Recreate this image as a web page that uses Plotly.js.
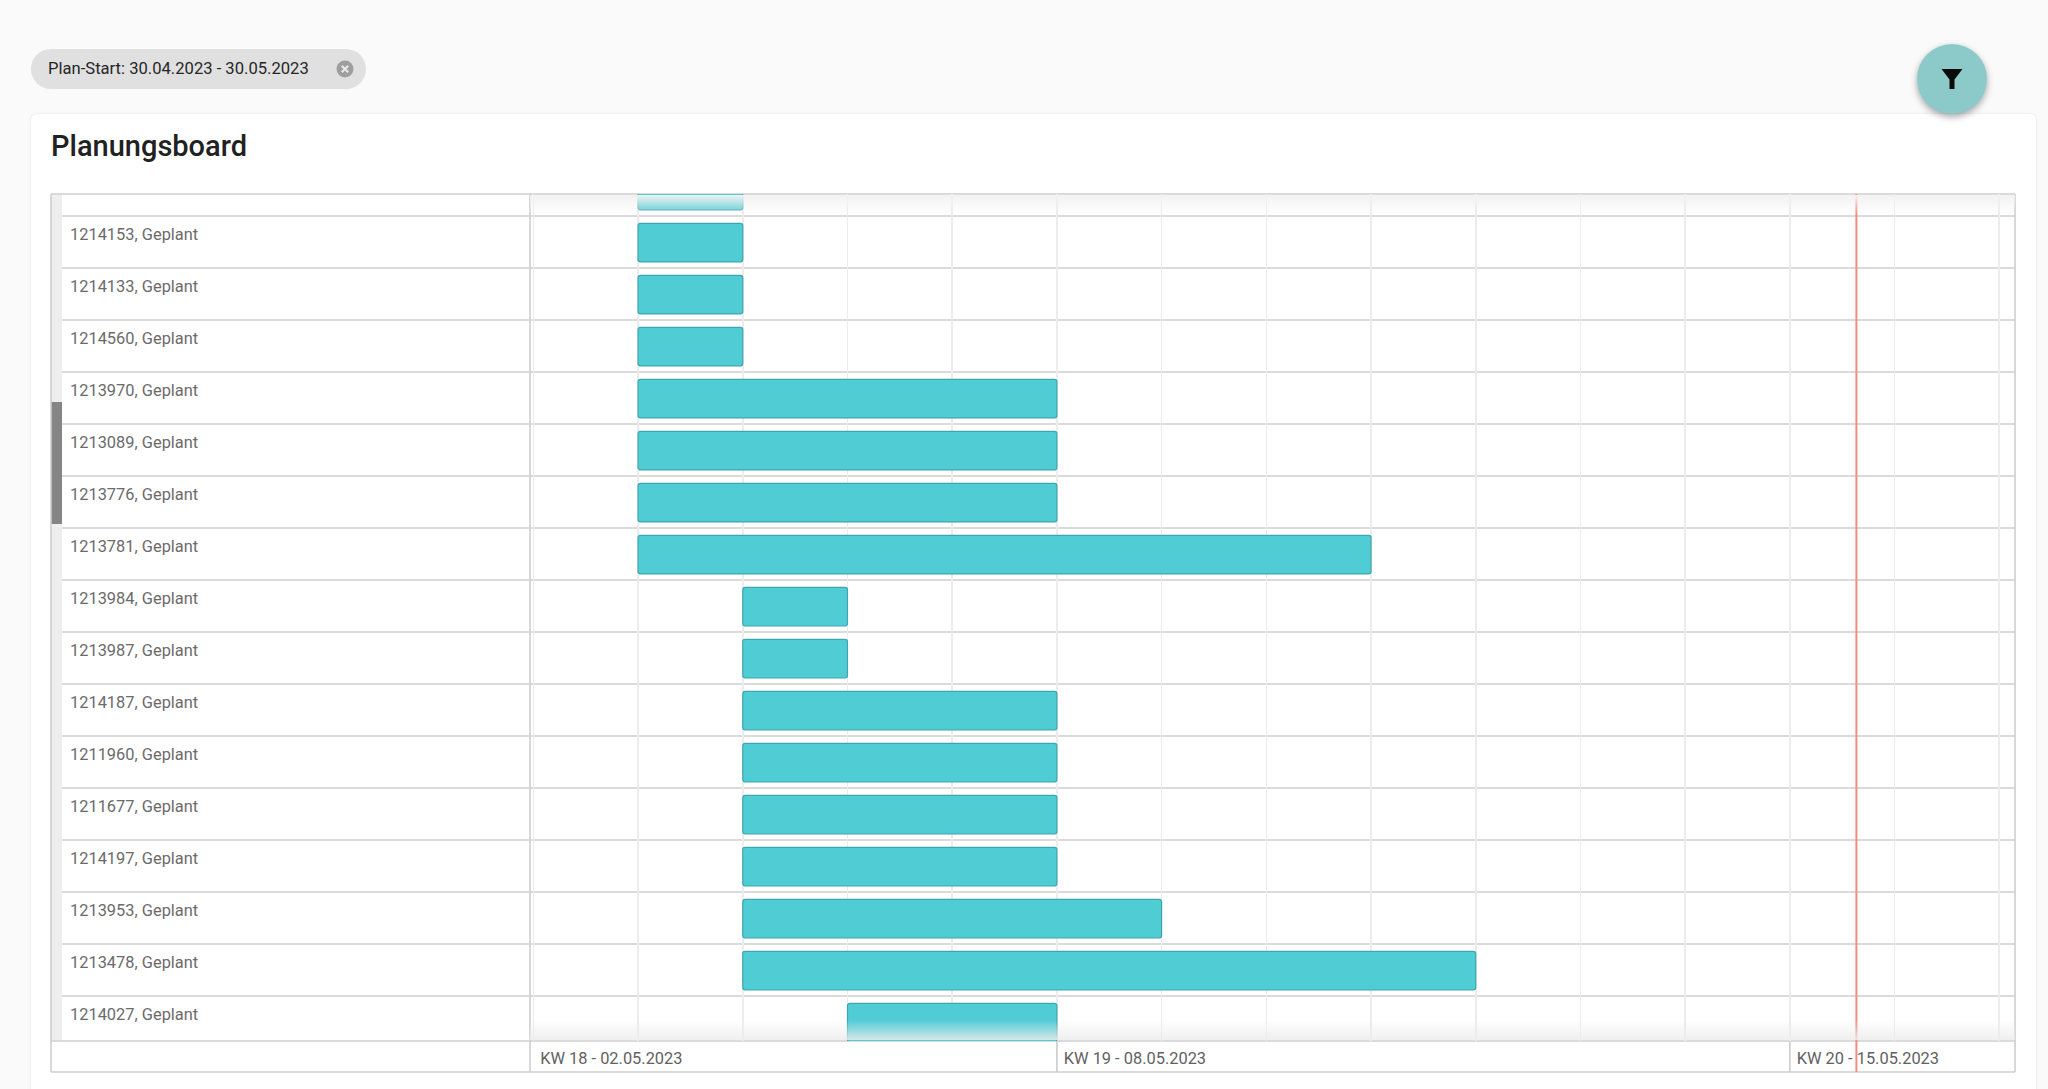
<!DOCTYPE html>
<html><head><meta charset="utf-8">
<script src="https://cdn.plot.ly/plotly-3.0.1.min.js"></script>
<style>
html,body{margin:0;padding:0;width:2048px;height:1089px;overflow:hidden;background:#fafafa}
.abs{position:absolute}
#card{left:31px;top:114px;width:2005px;height:990px;background:#fff;border-radius:6px;box-shadow:0 0 3px rgba(0,0,0,.10)}
#chip{left:31px;top:49px;width:335px;height:40px;border-radius:20px;background:#e0e0e0}
#plot{left:0;top:0;width:2048px;height:1089px;z-index:2}
#fadeT{left:530px;top:195px;width:1485px;height:20px;background:linear-gradient(#f2f2f2,rgba(255,255,255,0));z-index:3;pointer-events:none}
#fadeB{left:530px;top:1020px;width:1485px;height:20px;background:linear-gradient(rgba(255,255,255,0),rgba(236,236,236,.85));z-index:3;pointer-events:none}
#fab{left:1917px;top:44px;width:70px;height:70px;border-radius:50%;background:#8ccaca;box-shadow:0 3px 7px rgba(0,0,0,.35);z-index:4}
</style></head>
<body>
<div id="card" class="abs"></div>
<div id="chip" class="abs"></div>
<svg class="abs" style="left:336px;top:60px;z-index:3" width="18" height="18" viewBox="0 0 18 18">
<circle cx="9" cy="9" r="8.5" fill="#9e9e9e"/><path d="M5.8 5.8L12.2 12.2M12.2 5.8L5.8 12.2" stroke="#e8e8e8" stroke-width="2.2"/></svg>
<div id="plot" class="abs"></div>
<div id="fadeT" class="abs"></div>
<div id="fadeB" class="abs"></div>
<div id="fab" class="abs"><svg width="70" height="70" viewBox="0 0 70 70"><path d="M24.5 25h21L37.5 35.5V45h-5V35.5z" fill="#0a0a0a"/></svg></div>
<script>
// ---- data ----
const rowLabels = ["", "1214153, Geplant","1214133, Geplant","1214560, Geplant","1213970, Geplant","1213089, Geplant","1213776, Geplant","1213781, Geplant","1213984, Geplant","1213987, Geplant","1214187, Geplant","1211960, Geplant","1211677, Geplant","1214197, Geplant","1213953, Geplant","1213478, Geplant","1214027, Geplant"];
const planStart = ["2023-05-04","2023-05-04","2023-05-04","2023-05-04","2023-05-04","2023-05-04","2023-05-04","2023-05-04","2023-05-05","2023-05-05","2023-05-05","2023-05-05","2023-05-05","2023-05-05","2023-05-05","2023-05-05","2023-05-06"];
const planEnd   = ["2023-05-05","2023-05-05","2023-05-05","2023-05-05","2023-05-08","2023-05-08","2023-05-08","2023-05-11","2023-05-06","2023-05-06","2023-05-08","2023-05-08","2023-05-08","2023-05-08","2023-05-09","2023-05-12","2023-05-08"];
const tickDates = ["2023-05-03","2023-05-08","2023-05-15"];
const tickTexts = ["KW 18 - 02.05.2023","KW 19 - 08.05.2023","KW 20 - 15.05.2023"];
const weekLines = ["2023-05-08","2023-05-15"];
const todayLine = "2023-05-15 15:15";
const xRange = ["2023-05-02 23:14","2023-05-17 03:36"];
const chipText = "Plan-Start: 30.04.2023 - 30.05.2023";
const boardTitle = "Planungsboard";

const W=2048,H=1089,L=530,R=2015,T=194,B=1041,FOOT=1072,SCROLL=62,TABLE_L=51;
const px=v=>(v-L)/(R-L), py=v=>(B-v)/(B-T);
const line='#cfcfcf';
const durations=planEnd.map((e,i)=>new Date(e+'T00:00:00Z')-new Date(planStart[i]+'T00:00:00Z'));

const paperLine=(x0,y0,x1,y1,c,w)=>({type:'line',xref:'paper',yref:'paper',x0:px(x0),x1:px(x1),y0:py(y0),y1:py(y1),line:{color:c||line,width:w||1.6},layer:'below'});
const shapes=[
 {type:'rect',xref:'paper',yref:'paper',x0:px(TABLE_L),x1:px(SCROLL),y0:py(B),y1:py(T),fillcolor:'#eeeeee',line:{width:0},layer:'below'},
 {type:'rect',xref:'paper',yref:'paper',x0:px(TABLE_L),x1:px(SCROLL),y0:py(524),y1:py(402),fillcolor:'#858585',line:{width:0},layer:'below'},
 paperLine(TABLE_L,T,R,T), paperLine(TABLE_L,B,R,B), paperLine(TABLE_L,FOOT,R,FOOT),
 paperLine(TABLE_L,T,TABLE_L,FOOT), paperLine(R,T,R,FOOT), paperLine(L,T,L,FOOT)
];
rowLabels.slice(0,-1).forEach((_,i)=>shapes.push({type:'line',xref:'paper',yref:'y',x0:px(SCROLL),x1:1,y0:i+0.5,y1:i+0.5,line:{color:line,width:1.6},layer:'below'}));
weekLines.forEach(d=>shapes.push({type:'line',xref:'x',yref:'paper',x0:d,x1:d,y0:py(FOOT),y1:1,line:{color:'#cccccc',width:1.6},layer:'below'}));
shapes.push({type:'line',xref:'x',yref:'paper',x0:todayLine,x1:todayLine,y0:py(FOOT),y1:1,line:{color:'#f28b82',width:2},layer:'above'});

const annotations=rowLabels.filter(t=>t).map(t=>({xref:'paper',yref:'y',x:px(68),y:t,yshift:8,xanchor:'left',yanchor:'middle',xshift:0,showarrow:false,text:t,font:{family:'Roboto',size:16.4,color:'#6b6b6b'}}));
annotations.push({xref:'paper',yref:'paper',x:px(46),y:py(69),xanchor:'left',yanchor:'middle',showarrow:false,text:chipText,font:{family:'Roboto',size:16.6,color:'#262626'}});

Plotly.newPlot('plot',[{
  type:'bar',orientation:'h',y:rowLabels.map((t,i)=>t||' '),x:durations,base:planStart,
  width:0.744,offset:-0.36,
  marker:{color:'#50ccd5',line:{color:'#3fa6ae',width:1.2},cornerradius:3},
  hoverinfo:'skip',showlegend:false
}],{
  width:W,height:H,paper_bgcolor:'rgba(0,0,0,0)',plot_bgcolor:'rgba(0,0,0,0)',
  margin:{l:L,r:W-R,t:T,b:H-B,pad:0},
  title:{text:boardTitle,x:51/W,xanchor:'left',y:1-146/H,yanchor:'middle',font:{family:'Roboto',size:29,color:'#212121',weight:500}},
  font:{family:'Roboto'},
  xaxis:{type:'date',range:xRange,tickmode:'array',tickvals:tickDates,ticktext:tickTexts,ticklabelshift:78,ticklen:0,
    tickfont:{family:'Roboto',size:16.4,color:'#616161'},showgrid:false,zeroline:false,showline:false,ticks:'',
    minor:{showgrid:true,dtick:86400000,tick0:'2023-05-01',gridcolor:'#ececec',gridwidth:1.6,ticks:''},automargin:false,ticklabelstandoff:6},
  yaxis:{type:'category',categoryorder:'array',categoryarray:rowLabels.map(t=>t||' '),range:[16.365,0.077],showticklabels:false,showgrid:false,zeroline:false,showline:false,ticks:'',automargin:false},
  shapes,annotations,bargap:0
},{displayModeBar:false,staticPlot:true});
</script>
</body></html>
